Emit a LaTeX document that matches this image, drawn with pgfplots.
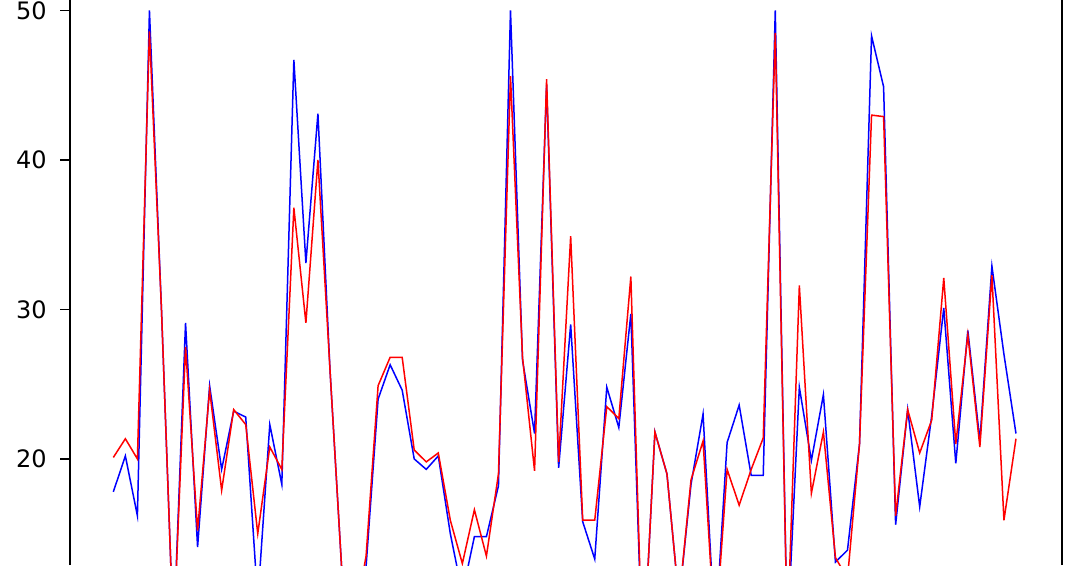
\documentclass[border=0pt]{standalone}
\usepackage{fontspec}
\setmainfont{DejaVu Sans}
\usepackage{pgfplots}
\pgfplotsset{compat=1.18}

\pgfplotstableread{
k blue red
0 17.8 20.1
1 20.2 21.35
2 16.2 20.0
3 50.0 48.6
4 30.0 30.0
5 8.0 8.0
6 29.1 27.5
7 14.1 15.2
8 24.9 24.6
9 19.3 17.9
10 23.2 23.3
11 22.8 22.3
12 10.5 15.0
13 22.3 20.8
14 18.3 19.3
15 46.7 36.8
16 33.1 29.1
17 43.1 40.0
18 26.0 26.0
19 12.3 12.3
20 9.0 9.0
21 12.8 13.5
22 24.0 24.9
23 26.3 26.8
24 24.6 26.8
25 20.0 20.6
26 19.3 19.8
27 20.2 20.4
28 15.0 15.9
29 11.0 13.0
30 14.8 16.6
31 14.8 13.5
32 18.2 19.0
33 50.0 45.6
34 26.6 26.8
35 21.7 19.2
36 45.0 45.4
37 19.4 19.8
38 29.0 34.9
39 15.8 15.9
40 13.3 15.9
41 24.8 23.5
42 22.1 22.7
43 29.7 32.2
44 6.0 6.0
45 21.8 21.8
46 19.0 19.0
47 10.5 10.5
48 18.3 18.6
49 23.0 21.2
50 8.0 8.0
51 21.1 19.3
52 23.6 16.9
53 18.9 19.3
54 18.9 21.4
55 50.0 48.5
56 8.0 8.0
57 24.8 31.6
58 19.9 17.7
59 24.3 21.8
60 13.1 13.4
61 13.9 12.0
62 21.0 21.0
63 48.3 43.0
64 44.9 42.9
65 15.6 16.2
66 23.3 23.3
67 16.8 20.4
68 22.9 22.6
69 30.1 32.1
70 19.7 21.0
71 28.6 28.3
72 21.2 20.8
73 32.9 32.3
74 27.0 15.9
75 21.7 21.35
}\series

\begin{document}
\begin{tikzpicture}
\begin{axis}[
    name=main,
    scale only axis,
    width=495.8pt,
    height=282.5pt,
    xmin=-3.6, xmax=78.8,
    ymin=12.9, ymax=50.7,
    xtick=\empty,
    ytick={20,30,40,50},
    ytick pos=left,
    tick align=outside,
    major tick length=5pt,
    tick style={black, line width=0.9pt},
    axis line style={draw=none},
    yticklabel style={font=\fontsize{12}{14}\selectfont, inner sep=0pt, xshift=-6.5pt},
    /pgf/number format/assume math mode=true,
]
\addplot[blue, line width=0.75pt] table[x=k, y=blue] {\series};
\addplot[red, line width=0.75pt] table[x=k, y=red] {\series};
\end{axis}
% left and right spines, drawn outside the clip
\draw[black, line width=1.2pt] (main.south west) -- (main.north west);
\draw[black, line width=1.2pt] (main.south east) -- (main.north east);
\pgfresetboundingbox
\path[use as bounding box] ([xshift=-35pt]main.south west) rectangle ([xshift=7.15pt]main.north east);
\end{tikzpicture}
\end{document}
